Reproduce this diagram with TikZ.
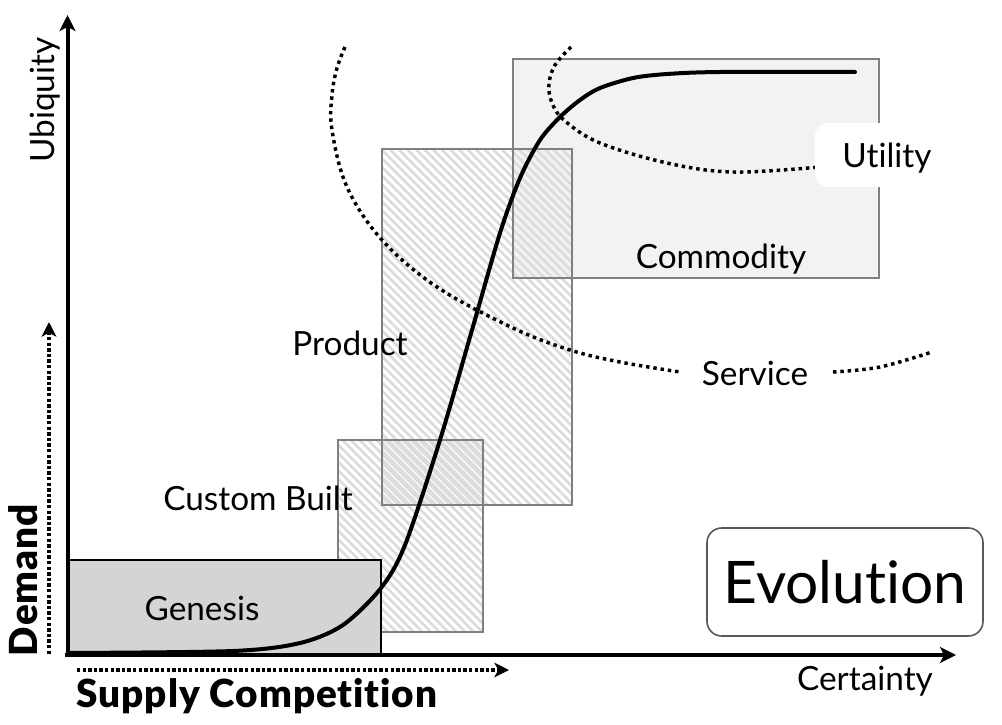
\documentclass[tikz,border=0pt]{standalone}
\usepackage{fontspec}
\setmainfont{Lato}[Ligatures=NoCommon]
\newfontface\heavyface{Lato Black}[Ligatures=NoCommon,LetterSpace=2.5]
\usetikzlibrary{arrows.meta}
\definecolor{boxgrey}{HTML}{808080}
\definecolor{hatchgrey}{HTML}{DCDCDC}
\newcommand{\hatchbox}[5]{%
  \begin{scope}
  \clip (#1,#2) rectangle (#3,#4);
  \foreach \s in {0,8.6,...,900}
    \draw[stripe] (#1+#5+\s-400,#2) -- ++(500,500);
  \end{scope}
}
\begin{document}
\begin{tikzpicture}[x=0.75pt,y=-0.75pt,
  label/.style={inner sep=0pt,font=\fontsize{25}{29}\selectfont},
  heavy/.style={inner sep=0pt,font=\fontsize{29}{33}\heavyface},
  stripe/.style={hatchgrey,line width=2pt},
  outline/.style={draw=boxgrey,line width=1.5pt},
  dotline/.style={line width=2.6pt,dash pattern=on 2.6pt off 2.9pt},
  axis/.style={line width=3pt,-{Stealth[length=12pt,width=12pt,inset=3pt]}},
  hint/.style={line width=3pt,dash pattern=on 2.6pt off 1.6pt,-{Stealth[length=11pt,width=11pt,inset=3pt]}}]
\def\yAxis{655}
\def\xAxis{67.5}
\useasboundingbox (0,0) rectangle (1002,724);

\coordinate (origin) at (\xAxis,\yAxis);
\coordinate (top) at (\xAxis,15);
\coordinate (right) at (956,\yAxis);

% boxes
\fill[black!5] (513,59) rectangle (879,278);
\hatchbox{338}{440}{483}{632}{0}
\hatchbox{382}{149}{572}{505}{3.4}
\draw[outline] (338,440) rectangle (483,632);
\draw[outline] (382,149) rectangle (572,505);
\draw[outline] (513,59) rectangle (879,278);
\draw[black,line width=2pt,fill=black!17] (\xAxis,560) rectangle (381,\yAxis);

% dotted curves
\draw[dotline] plot[smooth,tension=0.6] coordinates {(345,47) (337,68) (332,95) (332,130) (347,187) (382,240) (437,287) (513,328) (570,350) (620,362) (680,372)};
\draw[dotline] plot[smooth,tension=0.6] coordinates {(833,372) (880,367) (932,352)};
\draw[dotline] plot[smooth,tension=0.6] coordinates {(571,47) (555,65) (549,84) (552,103) (565,121) (600,143) (667,163) (733,172) (820,167)};

% evolution curve
\draw[line width=3pt,line cap=round] plot[smooth,tension=0.5] coordinates {(68,653) (233,651) (300,643) (343,625) (381,588) (405,545) (440,440) (472,330) (500,233) (520,178) (540,140) (560,117) (580,100) (600,88) (633,78) (667,74) (720,72) (855,72)};

% axes
\draw[axis] (origin) -- (top);
\draw[axis] ([xshift=-2pt]origin) -- (right);

% hints
\coordinate (demandFrom) at (49,654);
\coordinate (demandTo) at (49,322);
\coordinate (supplyFrom) at (77,670);
\coordinate (supplyTo) at (509,670);
\draw[hint] (demandFrom) -- (demandTo);
\draw[hint] (supplyFrom) -- (supplyTo);

% labels
\fill[white,rounded corners=10pt] (815,123) rectangle (959,187);
\path
(202,608) node[label] (genesis) {Genesis}
(258,498) node[label] (custom) {Custom Built}
(350,343) node[label] (product) {Product}
(721,259) node[label] (commodity) {Commodity}
(755,373) node[label] (service) {Service}
(865,681) node[label] (certainty) {Certainty}
(887,158) node[label] (utility) {Utility}
(845,582) node[draw=black!65,line width=1.2pt,rounded corners=11pt,fill=white,minimum width=207pt,minimum height=81pt,inner sep=0pt,font=\fontsize{44}{48}\selectfont] (evolution) {Evolution}
(45,100) node[label,rotate=90] (ubiquity) {Ubiquity}
(23,580) node[heavy,rotate=90] (demand) {Demand}
(257,696) node[heavy] (supply) {Supply Competition}
;
\end{tikzpicture}
\end{document}
